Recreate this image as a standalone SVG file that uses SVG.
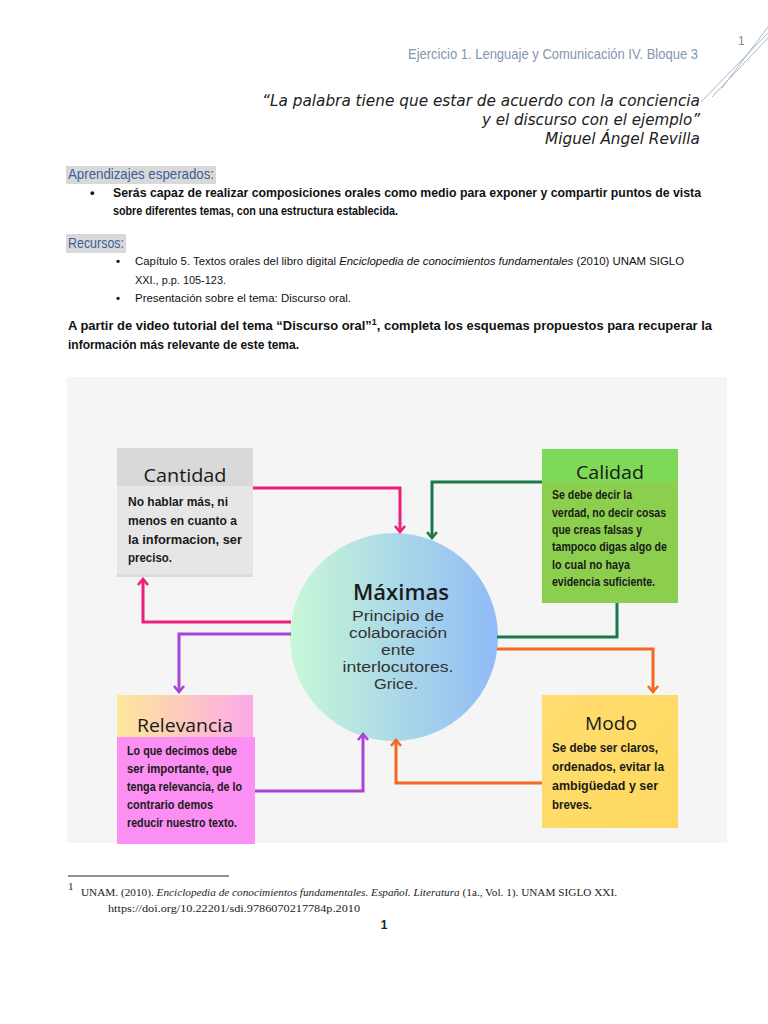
<svg xmlns="http://www.w3.org/2000/svg" width="768" height="1024" viewBox="0 0 768 1024">
<defs>
<style>
.hdr{font-family:"Liberation Sans",Arial,sans-serif;font-size:14.5px;fill:#8496b0}
.quote{font-family:"DejaVu Sans","Liberation Sans",sans-serif;font-style:italic;font-size:15px;fill:#222}
.sect{font-family:"Liberation Sans",Arial,sans-serif;font-size:15px;fill:#3a5f98}
.b13{font-family:"Liberation Sans",Arial,sans-serif;font-size:13px;font-weight:bold;fill:#111}
.n11{font-family:"Liberation Sans",Arial,sans-serif;font-size:11.5px;fill:#111}
.ttl{font-family:"Open Sans","Noto Sans",sans-serif;font-size:18px;font-weight:500;fill:#1a1a1a;text-anchor:middle}
.bx{font-family:"Liberation Sans",Arial,sans-serif;font-size:12.5px;font-weight:bold;fill:#1a1a1a}
.cb{font-family:"Liberation Sans",Arial,sans-serif;font-size:14px;fill:#333;text-anchor:middle}
.fn{font-family:"Liberation Serif","Times New Roman",serif;font-size:11px;fill:#222}
.conn{fill:none;stroke-width:3;stroke-linejoin:miter}
</style>
<linearGradient id="gCirc" x1="0" y1="0" x2="1" y2="0">
<stop offset="0" stop-color="#c8f8d7"/><stop offset="1" stop-color="#90bbf7"/>
</linearGradient>
<linearGradient id="gRel" x1="0" y1="0" x2="1" y2="0">
<stop offset="0" stop-color="#fde89a"/><stop offset="1" stop-color="#fca9e8"/>
</linearGradient>
<linearGradient id="gModo" x1="0" y1="0" x2="1" y2="1">
<stop offset="0" stop-color="#ffdd70"/><stop offset="1" stop-color="#fed85e"/>
</linearGradient>
<marker id="aPink" viewBox="0 0 12 12" refX="10" refY="6" markerWidth="12" markerHeight="12" markerUnits="userSpaceOnUse" orient="auto"><path d="M4,1 L10,6 L4,11" fill="none" stroke="#ec1f7a" stroke-width="2.6"/></marker>
<marker id="aPurp" viewBox="0 0 12 12" refX="10" refY="6" markerWidth="12" markerHeight="12" markerUnits="userSpaceOnUse" orient="auto"><path d="M4,1 L10,6 L4,11" fill="none" stroke="#a844d8" stroke-width="2.6"/></marker>
<marker id="aGrn" viewBox="0 0 12 12" refX="10" refY="6" markerWidth="12" markerHeight="12" markerUnits="userSpaceOnUse" orient="auto"><path d="M4,1 L10,6 L4,11" fill="none" stroke="#19794d" stroke-width="2.6"/></marker>
<marker id="aOrg" viewBox="0 0 12 12" refX="10" refY="6" markerWidth="12" markerHeight="12" markerUnits="userSpaceOnUse" orient="auto"><path d="M4,1 L10,6 L4,11" fill="none" stroke="#f26a22" stroke-width="2.6"/></marker>
</defs>
<rect width="768" height="1024" fill="#ffffff"/>

<!-- page header -->
<text x="738" y="45" font-family="Liberation Sans,Arial,sans-serif" font-size="12" fill="#8a8a8a">1</text>
<g stroke="#a9b7ca" stroke-width="1" fill="none">
<line x1="701" y1="102" x2="768" y2="33"/>
<line x1="712" y1="97" x2="768" y2="38"/>
<line x1="722" y1="88" x2="768" y2="27"/>
</g>
<text class="hdr" x="408" y="59" textLength="290" lengthAdjust="spacingAndGlyphs">Ejercicio 1. Lenguaje y Comunicación IV. Bloque 3</text>
<text class="quote" x="262" y="106" textLength="438" lengthAdjust="spacingAndGlyphs">“La palabra tiene que estar de acuerdo con la conciencia</text>
<text class="quote" x="482" y="125" textLength="218" lengthAdjust="spacingAndGlyphs">y el discurso con el ejemplo”</text>
<text class="quote" x="545" y="144" textLength="155" lengthAdjust="spacingAndGlyphs">Miguel Ángel Revilla</text>

<!-- sections -->
<rect x="66" y="166" width="150" height="18" fill="#d9d9d9"/>
<text class="sect" x="68" y="179" textLength="146" lengthAdjust="spacingAndGlyphs">Aprendizajes esperados:</text>
<text class="b13" x="90" y="197">•</text>
<text class="b13" x="113" y="197" textLength="588" lengthAdjust="spacingAndGlyphs">Serás capaz de realizar composiciones orales como medio para exponer y compartir puntos de vista</text>
<text class="b13" x="113" y="215" textLength="285" lengthAdjust="spacingAndGlyphs">sobre diferentes temas, con una estructura establecida.</text>

<rect x="66" y="234" width="60" height="19" fill="#d9d9d9"/>
<text class="sect" x="68" y="248" textLength="56" lengthAdjust="spacingAndGlyphs">Recursos:</text>
<text class="n11" x="116" y="265" font-weight="bold">•</text>
<text class="n11" x="135" y="265" textLength="549" lengthAdjust="spacingAndGlyphs">Capítulo 5. Textos orales del libro digital <tspan font-style="italic">Enciclopedia de conocimientos fundamentales</tspan> (2010) UNAM SIGLO</text>
<text class="n11" x="135" y="284" textLength="91" lengthAdjust="spacingAndGlyphs">XXI., p.p. 105-123.</text>
<text class="n11" x="116" y="302" font-weight="bold">•</text>
<text class="n11" x="135" y="302" textLength="216" lengthAdjust="spacingAndGlyphs">Presentación sobre el tema: Discurso oral.</text>

<text class="b13" x="68" y="330" textLength="644" lengthAdjust="spacingAndGlyphs">A partir de video tutorial del tema “Discurso oral”<tspan font-size="9" dy="-5">1</tspan><tspan dy="5">, completa los esquemas propuestos para recuperar la</tspan></text>
<text class="b13" x="68" y="349" textLength="231" lengthAdjust="spacingAndGlyphs">información más relevante de este tema.</text>

<!-- diagram background -->
<rect x="67" y="377" width="660" height="466" fill="#f5f5f5"/>

<!-- nodes -->
<g id="node-cantidad">
<rect x="117" y="448" width="136" height="38" fill="#d9d9d9"/>
<rect x="117" y="486" width="136" height="91" fill="#e6e6e6"/>
<rect x="117" y="574" width="136" height="3" fill="#dadada"/>
<text class="ttl" x="185" y="482" textLength="83" lengthAdjust="spacingAndGlyphs">Cantidad</text>
<text class="bx" x="128" y="506" textLength="100" lengthAdjust="spacingAndGlyphs">No hablar más, ni</text>
<text class="bx" x="128" y="525" textLength="109" lengthAdjust="spacingAndGlyphs">menos en cuanto a</text>
<text class="bx" x="128" y="544" textLength="114" lengthAdjust="spacingAndGlyphs">la informacion, ser</text>
<text class="bx" x="128" y="562" textLength="44" lengthAdjust="spacingAndGlyphs">preciso.</text>
</g>

<g id="node-calidad">
<rect x="542" y="449" width="136" height="33" fill="#7dd957"/>
<rect x="542" y="482" width="136" height="121" fill="#8ccf4f"/>
<text class="ttl" x="610" y="479" textLength="68" lengthAdjust="spacingAndGlyphs">Calidad</text>
<text class="bx" x="552" y="499" font-size="12" textLength="80" lengthAdjust="spacingAndGlyphs">Se debe decir la</text>
<text class="bx" x="552" y="517" font-size="12" textLength="114" lengthAdjust="spacingAndGlyphs">verdad, no decir cosas</text>
<text class="bx" x="552" y="534" font-size="12" textLength="90" lengthAdjust="spacingAndGlyphs">que creas falsas y</text>
<text class="bx" x="552" y="551" font-size="12" textLength="115" lengthAdjust="spacingAndGlyphs">tampoco digas algo de</text>
<text class="bx" x="552" y="569" font-size="12" textLength="78" lengthAdjust="spacingAndGlyphs">lo cual no haya</text>
<text class="bx" x="552" y="586" font-size="12" textLength="103" lengthAdjust="spacingAndGlyphs">evidencia suficiente.</text>
</g>

<g id="node-maximas">
<circle cx="394" cy="637" r="104" fill="url(#gCirc)"/>
<text x="401" y="600" font-family="Open Sans,Noto Sans,sans-serif" font-size="22" font-weight="600" fill="#1a1a1a" text-anchor="middle" textLength="96" lengthAdjust="spacingAndGlyphs">Máximas</text>
<text class="cb" x="398" y="621" textLength="92" lengthAdjust="spacingAndGlyphs">Principio de</text>
<text class="cb" x="398" y="638" textLength="98" lengthAdjust="spacingAndGlyphs">colaboración</text>
<text class="cb" x="398" y="655" textLength="34" lengthAdjust="spacingAndGlyphs">ente</text>
<text class="cb" x="398" y="672" textLength="111" lengthAdjust="spacingAndGlyphs">interlocutores.</text>
<text class="cb" x="396" y="689" textLength="44" lengthAdjust="spacingAndGlyphs">Grice.</text>
</g>

<g id="node-relevancia">
<rect x="117" y="695" width="136" height="42" fill="url(#gRel)"/>
<rect x="117" y="737" width="138" height="107" fill="#fb8ff3"/>
<text class="ttl" x="185" y="732" textLength="96" lengthAdjust="spacingAndGlyphs">Relevancia</text>
<text class="bx" x="127" y="755" font-size="12" textLength="110" lengthAdjust="spacingAndGlyphs">Lo que decimos debe</text>
<text class="bx" x="127" y="773" font-size="12" textLength="105" lengthAdjust="spacingAndGlyphs">ser importante, que</text>
<text class="bx" x="127" y="791" font-size="12" textLength="115" lengthAdjust="spacingAndGlyphs">tenga relevancia, de lo</text>
<text class="bx" x="127" y="809" font-size="12" textLength="86" lengthAdjust="spacingAndGlyphs">contrario demos</text>
<text class="bx" x="127" y="827" font-size="12" textLength="110" lengthAdjust="spacingAndGlyphs">reducir nuestro texto.</text>
</g>

<g id="node-modo">
<rect x="542" y="695" width="136" height="133" fill="url(#gModo)"/>
<text class="ttl" x="611" y="730" textLength="52" lengthAdjust="spacingAndGlyphs">Modo</text>
<text class="bx" x="552" y="752" font-size="13.5" textLength="106" lengthAdjust="spacingAndGlyphs">Se debe ser claros,</text>
<text class="bx" x="552" y="771" font-size="13.5" textLength="112" lengthAdjust="spacingAndGlyphs">ordenados, evitar la</text>
<text class="bx" x="552" y="790" font-size="13.5" textLength="106" lengthAdjust="spacingAndGlyphs">ambigüedad y ser</text>
<text class="bx" x="552" y="809" font-size="13.5" textLength="40" lengthAdjust="spacingAndGlyphs">breves.</text>
</g>

<!-- connectors -->
<g id="connectors" class="conn">
<path class="conn" d="M253,488 H400 V532" stroke="#ec1f7a" marker-end="url(#aPink)"/>
<path class="conn" d="M542,482 H432 V538" stroke="#19794d" marker-end="url(#aGrn)"/>
<path class="conn" d="M617,603 V637 H497" stroke="#19794d"/>
<path class="conn" d="M291,622 H143 V579" stroke="#ec1f7a" marker-end="url(#aPink)"/>
<path class="conn" d="M291,634 H179 V692" stroke="#a844d8" marker-end="url(#aPurp)"/>
<path class="conn" d="M255,791 H363 V734" stroke="#a844d8" marker-end="url(#aPurp)"/>
<path class="conn" d="M497,649 H653 V692" stroke="#f26a22" marker-end="url(#aOrg)"/>
<path class="conn" d="M542,783 H396 V740" stroke="#f26a22" marker-end="url(#aOrg)"/>
</g>

<!-- footnote -->
<line x1="68" y1="876" x2="229" y2="876" stroke="#222" stroke-width="1"/>
<text class="fn" x="68" y="890" font-size="9">1</text>
<text class="fn" x="81" y="896" textLength="536" lengthAdjust="spacingAndGlyphs">UNAM. (2010). <tspan font-style="italic">Enciclopedia de conocimientos fundamentales. Español. Literatura</tspan> (1a., Vol. 1). UNAM SIGLO XXI.</text>
<text class="fn" x="108" y="912" textLength="252" lengthAdjust="spacingAndGlyphs">https://doi.org/10.22201/sdi.9786070217784p.2010</text>

<text x="384" y="929" font-family="Liberation Sans,Arial,sans-serif" font-size="12" font-weight="bold" fill="#222" text-anchor="middle">1</text>
</svg>
